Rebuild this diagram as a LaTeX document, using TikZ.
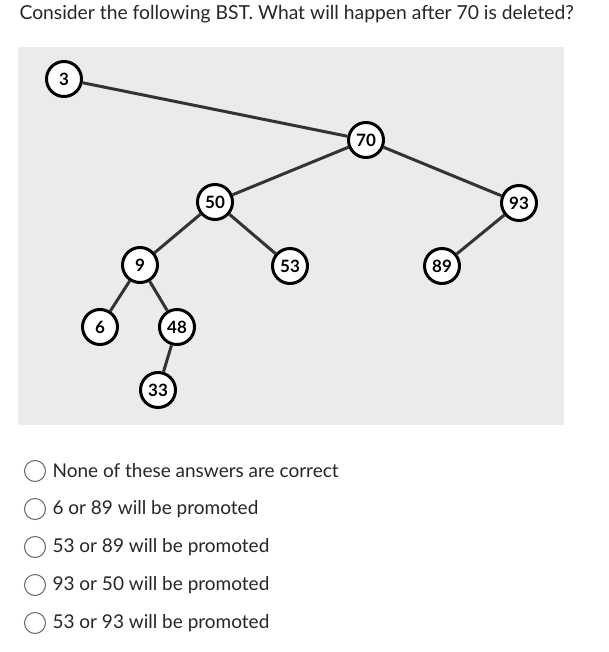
\documentclass[tikz,border=0pt]{standalone}
\usepackage{fontspec}
\setmainfont{Lato}
\begin{document}
\begin{tikzpicture}[x=1pt,y=-1pt,
  bst/.style={circle,draw=black,line width=3pt,fill=white,minimum size=35pt,inner sep=0pt,font=\fontsize{17}{19}\selectfont\bfseries},
  edge/.style={draw=black!80,line width=3pt},
  opt/.style={circle,draw=black!60,line width=1pt,minimum size=21pt,inner sep=0pt},
  lbl/.style={anchor=west,font=\fontsize{19}{22}\selectfont,text=black!85}]
\useasboundingbox (0,0) rectangle (609,652);
\fill[black!8] (18,47) rectangle (564,425);
\node[anchor=west,font=\fontsize{19.3}{22}\selectfont,text=black!85] (title) at (16,14) {Consider the following BST. What will happen after 70 is deleted?};
\node[bst] (n3) at (64,79) {3};
\node[bst] (n70) at (366,140) {70};
\node[bst] (n50) at (215,202) {50};
\node[bst] (n93) at (519,203) {93};
\node[bst] (n9) at (140,265) {9};
\node[bst] (n53) at (290,266) {53};
\node[bst] (n89) at (442,266) {89};
\node[bst] (n6) at (100,327) {6};
\node[bst] (n48) at (177,327) {48};
\node[bst] (n33) at (158,390) {33};
\draw[edge] (n3)--(n70); \draw[edge] (n70)--(n50); \draw[edge] (n70)--(n93);
\draw[edge] (n50)--(n9); \draw[edge] (n50)--(n53); \draw[edge] (n93)--(n89);
\draw[edge] (n9)--(n6); \draw[edge] (n9)--(n48); \draw[edge] (n48)--(n33);
\foreach \y/\t [count=\i] in {471/None of these answers are correct,509/6 or 89 will be promoted,547/53 or 89 will be promoted,585/93 or 50 will be promoted,623/53 or 93 will be promoted}{
  \node[opt] (o\i) at (35,\y) {};
  \node[lbl] (t\i) at (49,\y) {\t};
}
\end{tikzpicture}
\end{document}
